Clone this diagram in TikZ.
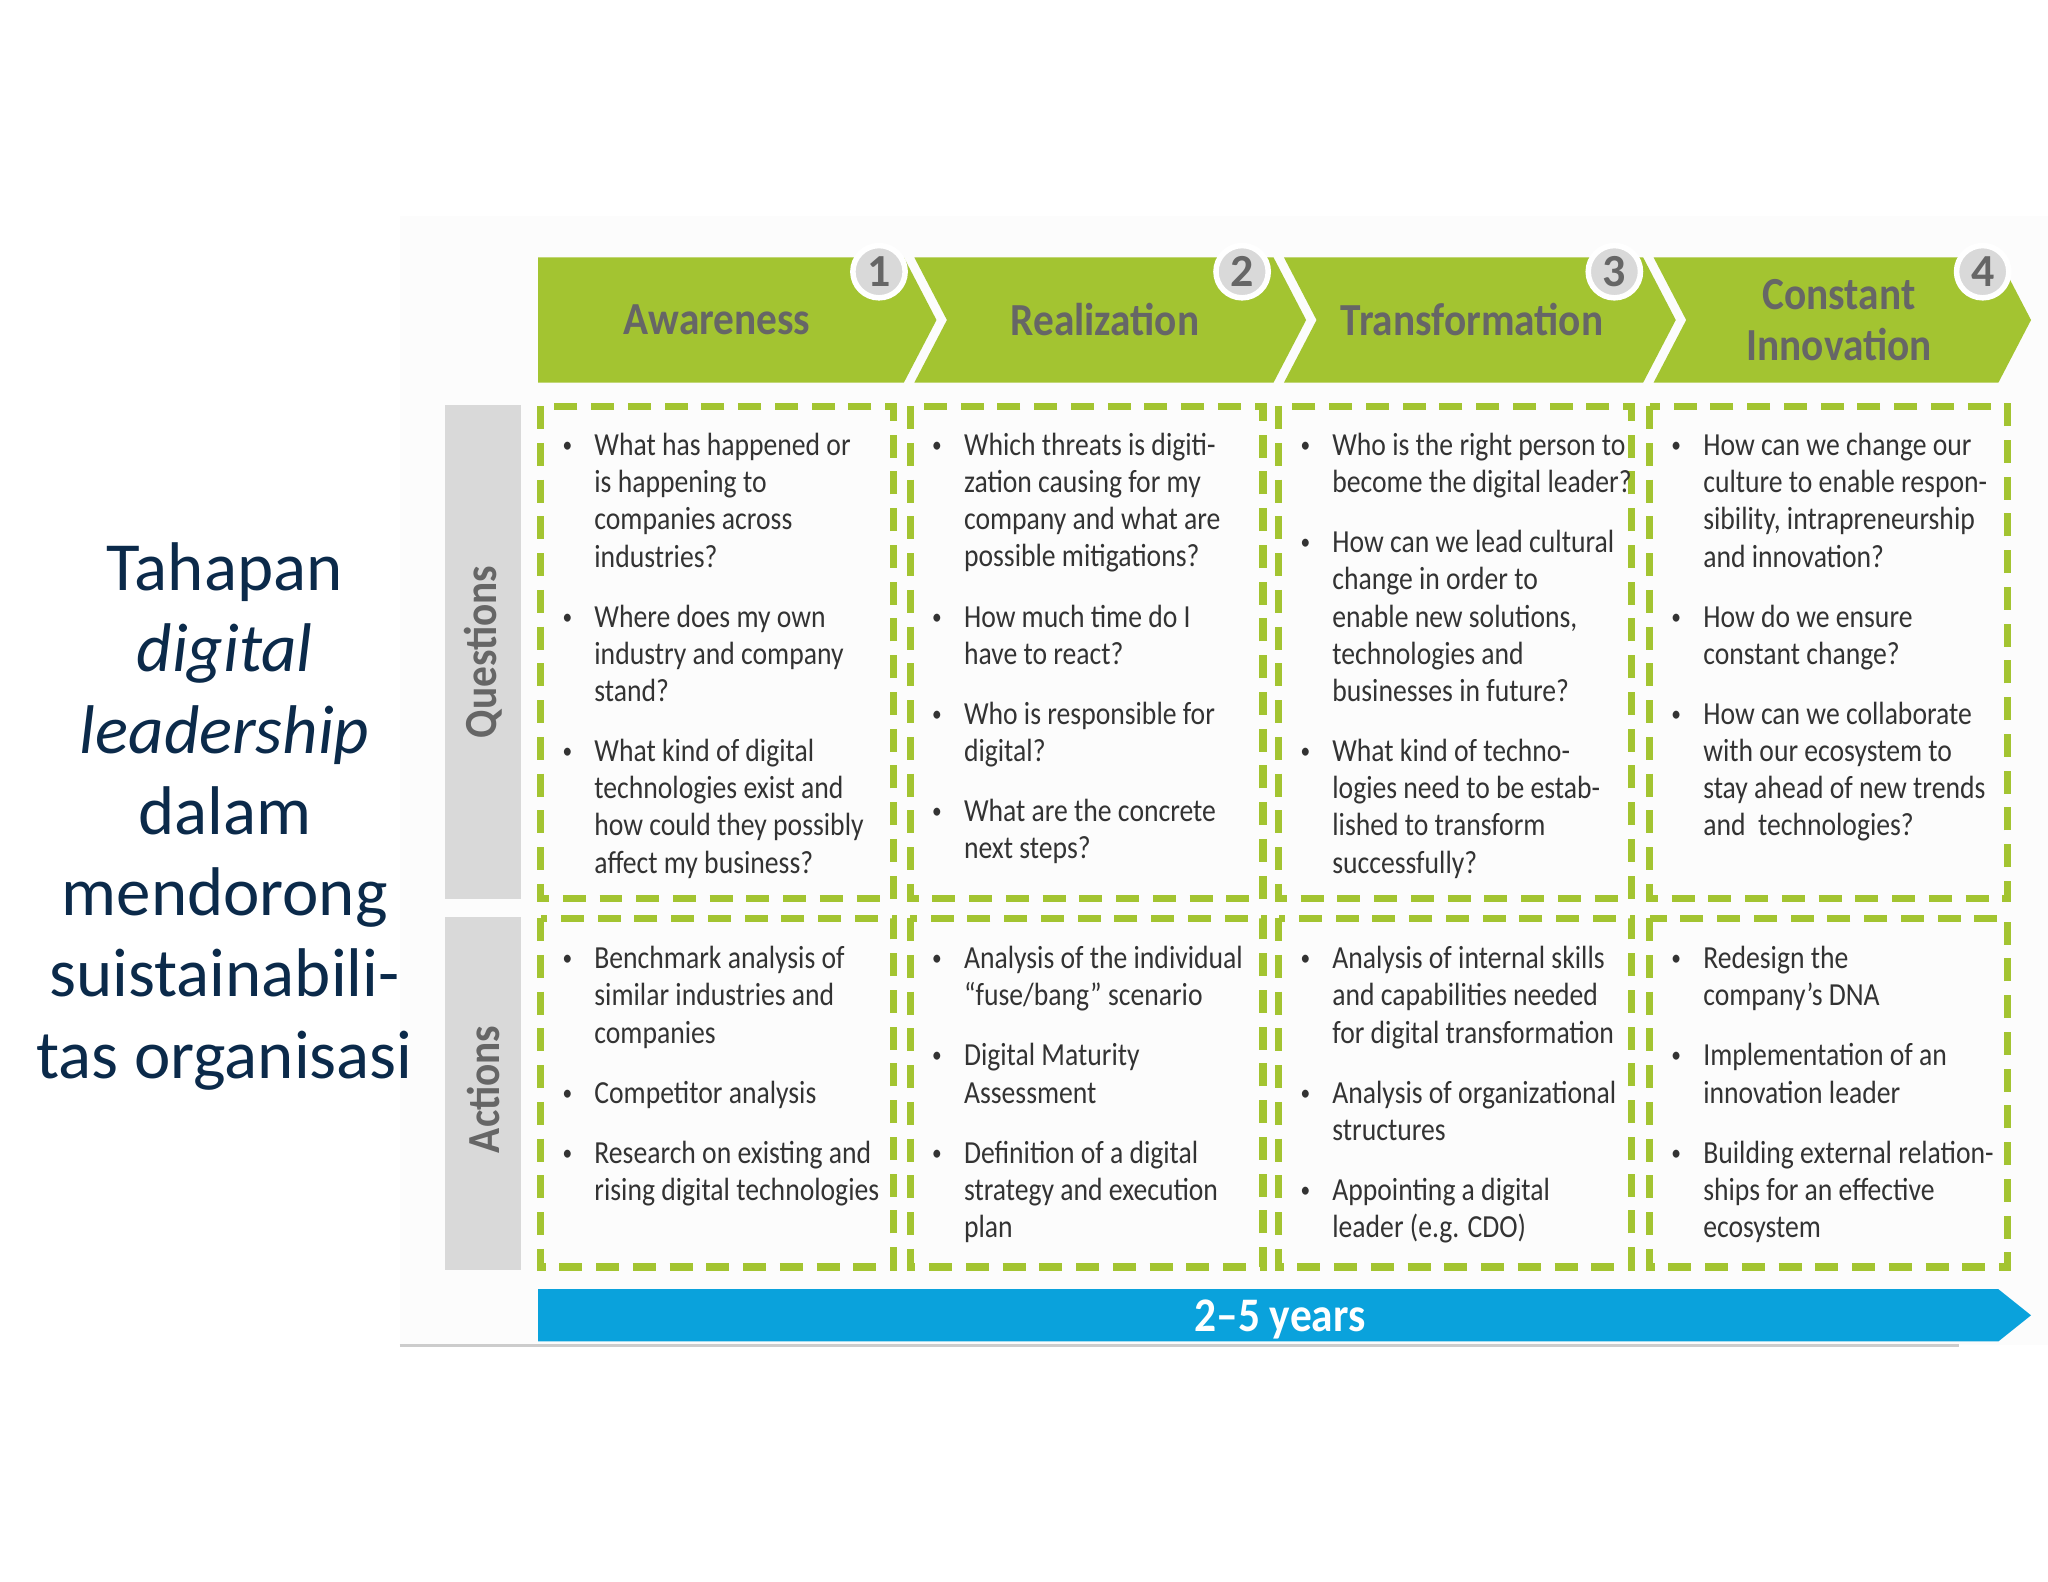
\documentclass[tikz,border=0pt]{standalone}
\usepackage{fontspec}
\setmainfont{Carlito}
\newfontfamily\cond[FakeStretch=0.86]{Carlito}
\newfontfamily\hcond[FakeStretch=0.9]{Carlito}
\usetikzlibrary{calc}
\definecolor{grn}{HTML}{A3C431}
\definecolor{hdr}{HTML}{666666}
\definecolor{side}{HTML}{D9D9D9}
\definecolor{blu}{HTML}{0AA2DC}
\definecolor{navy}{HTML}{0B2A4A}
\definecolor{body}{HTML}{333333}
\newcommand{\itm}[1]{\raisebox{0.2ex}{\scalebox{0.7}{\textbullet}} & \begin{tabular}[t]{@{}l@{}}#1\end{tabular}\\\noalign{\vskip 1.75mm}}
\newenvironment{blist}{\begin{tabular}{@{}l@{\hspace{1.7mm}}l@{}}}{\end{tabular}}
\tikzset{
 chev/.style={fill=grn,draw=none},
 num/.style={circle,fill=side,draw=white,line width=1.2pt,minimum size=0.4cm,inner sep=0,text=hdr,font=\bfseries\fontsize{10}{10}\selectfont},
 htxt/.style={text=hdr,font=\hcond\bfseries\fontsize{10}{11.2}\selectfont,align=center},
 cell/.style={draw=grn,dashed,line width=1.6pt,dash pattern=on 5pt off 3pt},
 sidebox/.style={fill=side,draw=none},
 stxt/.style={rotate=90,text=hdr,font=\hcond\bfseries\fontsize{10}{11}\selectfont},
 ctxt/.style={anchor=north west,inner sep=0,text=body,font=\cond\fontsize{7}{8.1}\selectfont},
}
\begin{document}
\begin{tikzpicture}[x=0.01cm,y=-0.01cm]
\useasboundingbox (0,0) rectangle (1568,1211);
\fill[gray!2] (306,165) rectangle (1568,1030);
\draw[gray!40,line width=0.6pt] (306,1030) -- (1500,1030);
% chevrons
\fill[chev] (412,197) -- (692,197) -- (717,245) -- (692,293) -- (412,293) -- cycle;
\fill[chev] (700,197) -- (975,197) -- (1000,245) -- (975,293) -- (700,293) -- (725,245) -- cycle;
\fill[chev] (983,197) -- (1258,197) -- (1283,245) -- (1258,293) -- (983,293) -- (1008,245) -- cycle;
\fill[chev] (1266,197) -- (1530,197) -- (1555,245) -- (1530,293) -- (1266,293) -- (1291,245) -- cycle;
\node[htxt] (h1) at (549,245) {Awareness};
\node[htxt] (h2) at (846,245) {Realization};
\node[htxt] (h3) at (1127,245) {Transformation};
\node[htxt] (h4) at (1408,245) {Constant\\Innovation};
\node[num] (n1) at (673,208) {1};
\node[num] (n2) at (951,208) {2};
\node[num] (n3) at (1236,208) {3};
\node[num] (n4) at (1518,208) {4};
% side
\fill[sidebox] (341,310) rectangle (399,688);
\fill[sidebox] (341,702) rectangle (399,972);
\node[stxt] (q) at (370,499) {Questions};
\node[stxt] (a) at (370,834) {Actions};
% cells
\foreach \l/\r in {414/684,697/967,979/1249,1263/1537}{
 \draw[cell] (\l,311) rectangle (\r,688);
 \draw[cell] (\l,703) rectangle (\r,970);
}
\node[ctxt] (q1) at (430,328) {\begin{blist}
\itm{What has happened or\\is happening to\\companies across\\industries?}
\itm{Where does my own\\industry and company\\stand?}
\itm{What kind of digital\\technologies exist and\\how could they possibly\\affect my business?}
\end{blist}};
\node[ctxt] (q2) at (713,328) {\begin{blist}
\itm{Which threats is digiti-\\zation causing for my\\company and what are\\possible mitigations?}
\itm{How much time do I\\have to react?}
\itm{Who is responsible for\\digital?}
\itm{What are the concrete\\next steps?}
\end{blist}};
\node[ctxt] (q3) at (995,328) {\begin{blist}
\itm{Who is the right person to\\become the digital leader?}
\itm{How can we lead cultural\\change in order to\\enable new solutions,\\technologies and\\businesses in future?}
\itm{What kind of techno-\\logies need to be estab-\\lished to transform\\successfully?}
\end{blist}};
\node[ctxt] (q4) at (1279,328) {\begin{blist}
\itm{How can we change our\\culture to enable respon-\\sibility, intrapreneurship\\and innovation?}
\itm{How do we ensure\\constant change?}
\itm{How can we collaborate\\with our ecosystem to\\stay ahead of new trends\\and\ \ technologies?}
\end{blist}};
\node[ctxt] (a1) at (430,721) {\begin{blist}
\itm{Benchmark analysis of\\similar industries and\\companies}
\itm{Competitor analysis}
\itm{Research on existing and\\rising digital technologies}
\end{blist}};
\node[ctxt] (a2) at (713,721) {\begin{blist}
\itm{Analysis of the individual\\“fuse/bang” scenario}
\itm{Digital Maturity\\Assessment}
\itm{Definition of a digital\\strategy and execution\\plan}
\end{blist}};
\node[ctxt] (a3) at (995,721) {\begin{blist}
\itm{Analysis of internal skills\\and capabilities needed\\for digital transformation}
\itm{Analysis of organizational\\structures}
\itm{Appointing a digital\\leader (e.g. CDO)}
\end{blist}};
\node[ctxt] (a4) at (1279,721) {\begin{blist}
\itm{Redesign the\\company’s DNA}
\itm{Implementation of an\\innovation leader}
\itm{Building external relation-\\ships for an effective\\ecosystem}
\end{blist}};
% bar
\fill[blu] (412,987) -- (1530,987) -- (1555,1007) -- (1530,1027) -- (412,1027) -- cycle;
\node[text=white,font=\hcond\bfseries\fontsize{10.5}{12}\selectfont] (yr) at (980,1010) {2–5 years};
% title
\node[text=navy,align=center,font=\fontsize{15}{17.7}\selectfont] (t) at (172,625)
{Tahapan\\\textit{digital}\\\textit{leadership}\\dalam\\mendorong\\suistainabili-\\tas organisasi};
\end{tikzpicture}
\end{document}
